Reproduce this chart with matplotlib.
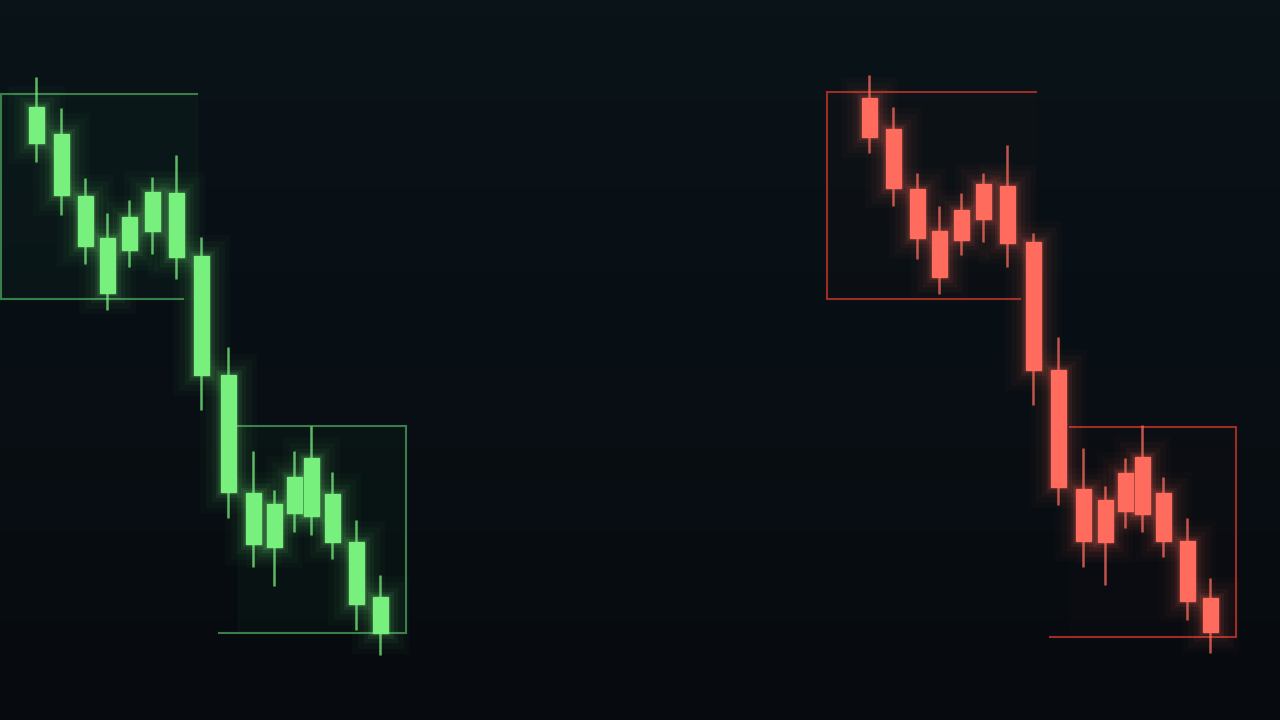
import matplotlib
matplotlib.use("Agg")
import matplotlib.pyplot as plt
import numpy as np

# ---- candle data (price units) ----
green_x = [36, 61, 85, 107, 129, 152, 176, 201, 228, 253, 274, 294, 311, 332, 356, 380]
green_high = [643, 612, 542, 507, 520, 543, 565, 483, 373, 269, 230, 269, 294, 248, 200, 145]
green_open = [613, 586, 524, 482, 503, 528, 527, 464, 345, 227, 216, 243, 262, 226, 178, 123]
green_close = [577, 525, 474, 427, 470, 489, 463, 345, 228, 176, 173, 207, 204, 178, 116, 87]
green_low = [558, 505, 456, 410, 453, 466, 441, 310, 202, 153, 134, 188, 185, 161, 90, 65]

red_x = [869, 893, 917, 939, 961, 983, 1007, 1033, 1058, 1083, 1105, 1125, 1142, 1163, 1187, 1210]
red_high = [645, 613, 547, 514, 527, 547, 575, 487, 383, 272, 234, 262, 295, 243, 202, 142]
red_open = [622, 591, 531, 489, 510, 536, 534, 478, 350, 231, 220, 247, 263, 227, 179, 122]
red_close = [583, 532, 482, 443, 480, 501, 477, 350, 233, 179, 178, 209, 206, 179, 119, 88]
red_low = [567, 514, 461, 426, 465, 478, 453, 315, 215, 153, 135, 192, 188, 163, 100, 67]

# consolidation boxes: (left, right, top, bottom, bottom_line_end, top_line_start, has_left)
green_boxes = [(1, 197, 626, 421, 183, 1, True), (238, 406, 294, 87, 219, 238, False)]
red_boxes = [(827, 1036, 628, 421, 1020, 827, True), (1070, 1236, 293, 83, 1050, 1070, False)]

BG = "#0a1318"


def draw_candles(ax, x, o, h, l, c, color, width=15):
    x = np.asarray(x)
    top = np.maximum(o, c)
    bot = np.minimum(o, c)
    # glow layers
    for lw, a in [(30, 0.025), (22, 0.035), (14, 0.05), (8, 0.08), (4, 0.12)]:
        ax.bar(x, top - bot, bottom=bot, width=width, color="none",
               edgecolor=color, linewidth=lw, alpha=a, zorder=2)
    ax.vlines(x, l, h, color=color, linewidth=1.8, alpha=0.75, zorder=3)
    ax.bar(x, top - bot, bottom=bot, width=width, color=color,
           edgecolor=color, linewidth=1.0, zorder=4)


def draw_boxes(ax, boxes, line_color, fill_color, fill_alpha):
    for left, right, top, bottom, bot_start, top_start, has_left in boxes:
        ax.fill_between([left, right], bottom, top, color=fill_color, alpha=fill_alpha, zorder=1)
        ax.plot([top_start, right], [top, top], color=line_color, lw=1.5, zorder=1.5)
        ax.plot([bot_start, right] if not has_left else [left, bot_start],
                [bottom, bottom], color=line_color, lw=1.5, zorder=1.5)
        if has_left:
            ax.plot([left, left], [bottom, top], color=line_color, lw=1.5, zorder=1.5)
        else:
            ax.plot([right, right], [bottom, top], color=line_color, lw=1.5, zorder=1.5)


fig = plt.figure(figsize=(12.8, 7.2), dpi=100, facecolor=BG)
ax = fig.add_axes([0, 0, 1, 1])
ax.set_facecolor(BG)
ax.set_xlim(0, 1280)
ax.set_ylim(0, 720)
ax.axis("off")

# faint darker band at the bottom
ax.imshow(np.linspace(0, 1, 50).reshape(-1, 1), extent=(0, 1280, 0, 720), origin="lower",
          cmap=matplotlib.colors.LinearSegmentedColormap.from_list("bg", ["#070b10", BG]),
          aspect="auto", zorder=0)

draw_boxes(ax, green_boxes, "#3a7f4a", "#3fd060", 0.035)
draw_boxes(ax, red_boxes, "#9e2c26", "#e04030", 0.015)

draw_candles(ax, green_x, green_open, green_high, green_low, green_close, "#78f07e")
draw_candles(ax, red_x, red_open, red_high, red_low, red_close, "#ff6b5d")

fig.savefig("out.png", dpi=100, facecolor=BG)
